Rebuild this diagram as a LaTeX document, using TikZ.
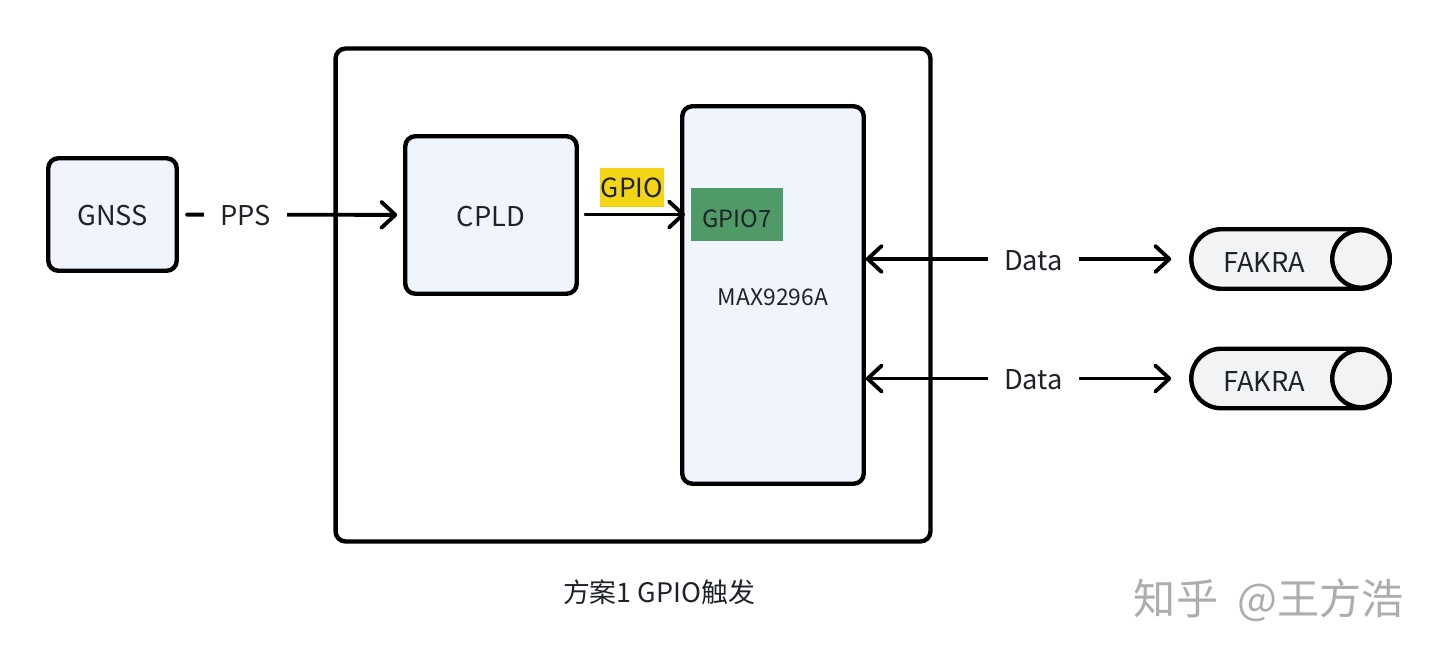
\documentclass[tikz,border=0pt]{standalone}
\usepackage{fontspec}
\setmainfont{Noto Sans CJK SC}
\usetikzlibrary{positioning, arrows.meta, shapes.misc}
\definecolor{blockfill}{HTML}{EFF4FD}
\definecolor{plugfill}{HTML}{F2F3F5}
\definecolor{textdark}{HTML}{1F2329}
\definecolor{gpioyellow}{HTML}{F3D516}
\definecolor{gpiogreen}{HTML}{4F9A66}
\tikzset{
	block/.style={draw, line width=2.5pt, rectangle, rounded corners=0.2cm, fill=blockfill, text=textdark, inner sep=0pt, outer sep=0pt, text height=4.6mm, font=\fontsize{15.5}{18}\selectfont},
	plug/.style={draw, line width=2.5pt, rounded rectangle, fill=plugfill, minimum width=3.97cm, minimum height=1.19cm, inner sep=0pt, outer sep=0pt},
	plugend/.style={draw, line width=2.5pt, circle, fill=plugfill, minimum size=1.15cm, inner sep=0pt, outer sep=0pt},
	link/.style={line width=2.2pt, line cap=round, -{Straight Barb[length=2.8mm,width=5.2mm,round]}},
	biglink/.style={link, {Straight Barb[length=2.8mm,width=5.2mm,round]}-{Straight Barb[length=2.8mm,width=5.2mm,round]}, shorten <=0.04cm, shorten >=0.4cm},
	tag/.style={text=textdark, inner sep=0pt, font=\fontsize{15.5}{18}\selectfont},
	gap/.style={tag, fill=white, minimum height=0.8cm, text height=4.6mm}
}
\begin{document}
\begin{tikzpicture}[x=0.02cm, y=-0.02cm]
			\useasboundingbox (0,0) rectangle (1440,658);
			
			%Blocks
			\node (Board) at (633,295) [draw, line width=2.5pt, rectangle, rounded corners=0.2cm, minimum width=11.9cm, minimum height=9.86cm, outer sep=0pt]{};
			\node (GNSS) at (112.5,214.5) [block, minimum width=2.57cm, minimum height=2.25cm]{GNSS};
			\node (CPLD) at (491,215) [block, minimum width=3.43cm, minimum height=3.15cm]{CPLD};
			\node (MAX) at (773,295) [block, minimum width=3.63cm, minimum height=7.55cm]{};
			\node (GPIOseven) at (737,214.5) [fill=gpiogreen, minimum width=1.84cm, minimum height=1.06cm, inner sep=0pt, outer sep=0pt]{};
			\node (FakraA) at (1290.5,259) [plug]{};
			\node (FakraB) at (1290.5,378.5) [plug]{};
			\node (CapA) at (FakraA.east) [plugend, anchor=east]{};
			\node (CapB) at (FakraB.east) [plugend, anchor=east]{};
			
			%Links
			\draw[link, shorten <=0.2cm, shorten >=0.16cm] (GNSS) -- node[gap, pos=0.3, minimum width=1.66cm]{PPS} (CPLD);
			\draw[link, shorten <=0.18cm, shorten >=0.12cm] (CPLD.east |- GPIOseven.west) -- (GPIOseven.west);
			\draw[biglink] (MAX.east |- FakraA.west) -- node[gap, pos=0.518, minimum width=1.82cm]{Data} (FakraA.west);
			\draw[biglink] (MAX.east |- FakraB.west) -- node[gap, pos=0.518, minimum width=1.82cm]{Data} (FakraB.west);
			
			%Variables
			\node (GPIOtag) at (632,187.5) [tag, fill=gpioyellow, minimum width=1.28cm, minimum height=0.78cm, font=\fontsize{15}{18}\selectfont]{GPIO};
			\node (GPIOsevenText) at (737,219) [tag, font=\fontsize{13.5}{16}\selectfont]{GPIO7};
			\node (MAXText) at (773,297) [tag, font=\fontsize{13}{16}\selectfont]{MAX9296A};
			\node (FakraAText) at (1264,263) [tag]{FAKRA};
			\node (FakraBText) at (1264,382) [tag]{FAKRA};
			\node (Caption) at (659,592) [tag, font=\fontsize{15.3}{18}\selectfont]{方案1 GPIO触发};
			\node (Mark) at (1269,600) [text=black!32, inner sep=0pt, font=\fontsize{24}{28}\selectfont]{知乎\hspace{5.7pt} @王方浩};
			
			\end{tikzpicture}
\end{document}
